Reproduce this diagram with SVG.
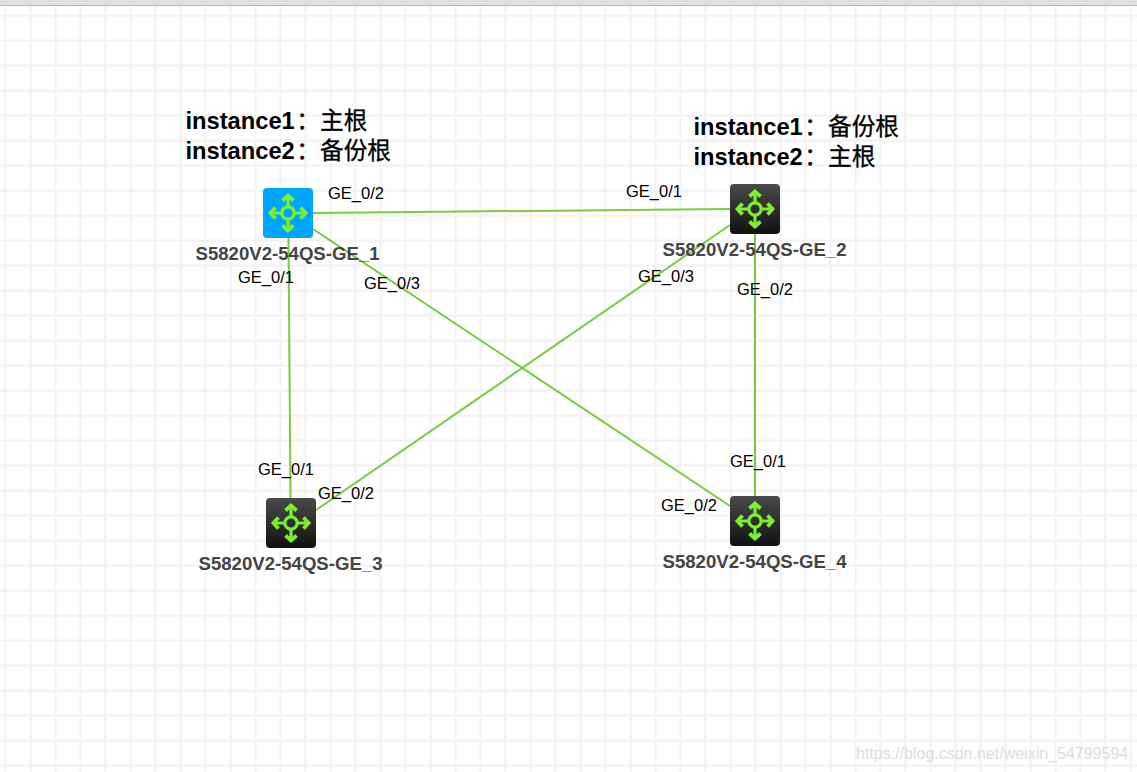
<svg xmlns="http://www.w3.org/2000/svg" xmlns:xlink="http://www.w3.org/1999/xlink" width="1137" height="772" viewBox="0 0 1137 772">
<style>
.port{font:16.5px "Liberation Sans",Arial,sans-serif;fill:#000}
.name{font:bold 18.6px "Liberation Sans",Arial,sans-serif;fill:#444;text-anchor:middle}
.inst{font:bold 23.7px "Liberation Sans","Noto Sans CJK SC",sans-serif;fill:#000}
.cjk{font-weight:400;stroke:#000;stroke-width:.3}
.link{stroke:#7ac943;stroke-width:2;fill:none}
.g{fill:none;stroke:#7cf02c;stroke-width:3.200}
.h{fill:none;stroke:#7cf02c;stroke-width:3.800;stroke-linejoin:miter}
</style>
<defs>
<pattern id="grid" x="0" y="0" width="25" height="25" patternUnits="userSpaceOnUse">
<rect x="4.5" y="0" width="2" height="25" fill="#f2f2f2"/>
<rect x="0" y="14.5" width="25" height="2.2" fill="#f2f2f2"/>
</pattern>
<linearGradient id="dark" x1="0" y1="0" x2="0" y2="1"><stop offset="0" stop-color="#4a4a4a"/><stop offset="1" stop-color="#111"/></linearGradient>
<g id="icon">
<circle cx="25" cy="25" r="6.200" class="g"/>
<path class="g" d="M25 8V19M25 31V42M8 25H19M31 25H42"/>
<path class="h" d="M19.500 12.500L25 7.500L30.500 12.500M19.500 37.500L25 42.500L30.500 37.500M12.500 19.500L7.500 25L12.500 30.500M37.500 19.500L42.500 25L37.500 30.500"/>
</g>
</defs>
<rect width="1137" height="772" fill="#fff"/>
<rect width="1137" height="772" fill="url(#grid)"/>
<rect width="1137" height="5" fill="#e0e0e0"/>
<rect y="5" width="1137" height="1" fill="#b8b8b8"/>
<g id="connectors">
<path class="link" d="M313 213L730 209"/>
<path class="link" d="M288.500 238L290.500 498"/>
<path class="link" d="M313 229L730 506"/>
<path class="link" d="M730 225L316 510"/>
<path class="link" d="M755 234V496"/>
</g>
<g id="node1"><rect x="263" y="188" width="50" height="50" rx="4" fill="#00a5ff"/><use xlink:href="#icon" href="#icon" x="263" y="188"/><text class="name" x="287.500" y="260">S5820V2-54QS-GE_1</text></g>
<g id="node2"><rect x="730" y="184" width="50" height="50" rx="4" fill="url(#dark)"/><use xlink:href="#icon" href="#icon" x="730" y="184"/><text class="name" x="754.500" y="256">S5820V2-54QS-GE_2</text></g>
<g id="node3"><rect x="266" y="498" width="50" height="50" rx="4" fill="url(#dark)"/><use xlink:href="#icon" href="#icon" x="266" y="498"/><text class="name" x="290.500" y="570">S5820V2-54QS-GE_3</text></g>
<g id="node4"><rect x="730" y="496" width="50" height="50" rx="4" fill="url(#dark)"/><use xlink:href="#icon" href="#icon" x="730" y="496"/><text class="name" x="754.500" y="568">S5820V2-54QS-GE_4</text></g>
<g id="labels">
<text class="port" x="328" y="199">GE_0/2</text>
<text class="port" x="626" y="197">GE_0/1</text>
<text class="port" x="238" y="283">GE_0/1</text>
<text class="port" x="364" y="289">GE_0/3</text>
<text class="port" x="638" y="282">GE_0/3</text>
<text class="port" x="737" y="295">GE_0/2</text>
<text class="port" x="258" y="475">GE_0/1</text>
<text class="port" x="318" y="499">GE_0/2</text>
<text class="port" x="730" y="467">GE_0/1</text>
<text class="port" x="661" y="511">GE_0/2</text>
<text class="inst" x="185.500" y="129">instance1<tspan class="cjk" dx="1.500">：主根</tspan></text>
<text class="inst" x="185.500" y="159">instance2<tspan class="cjk" dx="1.500">：备份根</tspan></text>
<text class="inst" x="693.500" y="135">instance1<tspan class="cjk" dx="1.500">：备份根</tspan></text>
<text class="inst" x="693.500" y="165">instance2<tspan class="cjk" dx="1.500">：主根</tspan></text>
<text x="856" y="759" style="font:16px 'Liberation Sans',Arial,sans-serif;fill:#dcdcdc">https://blog.csdn.net/weixin_54799594</text>
</g>
</svg>
